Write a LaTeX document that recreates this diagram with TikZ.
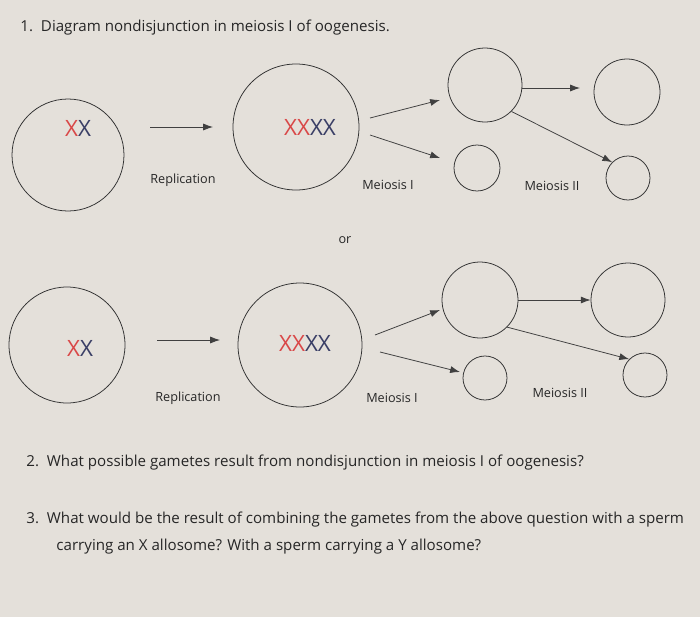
\documentclass[tikz,border=0pt]{standalone}
\usepackage{fontspec}
\setmainfont{Open Sans}
\usetikzlibrary{arrows.meta}
\begin{document}
\begin{tikzpicture}[x=0.05cm,y=-0.05cm,
  cell/.style={draw=black!80,line width=1.1pt,circle,inner sep=0pt},
  arr/.style={draw=black!75,line width=1.1pt,-{Latex[length=14pt,width=10pt]}},
  lbl/.style={font=\fontsize{18}{19}\selectfont,text=black!85},
  chrom/.style={font=\fontsize{32}{34}\selectfont},
  q/.style={font=\fontsize{21.5}{24}\selectfont,anchor=west,text=black!85}]
\definecolor{xr}{HTML}{D94848}\definecolor{xb}{HTML}{3A3F66}\definecolor{paper}{HTML}{E4E0DA}
\fill[paper] (0,0) rectangle (700,617);
\useasboundingbox (0,0) rectangle (700,617);
\node[q,font=\fontsize{21.5}{24}\selectfont] (t) at (18,28) {1.\ \ Diagram nondisjunction in meiosis I of oogenesis.};
% row 1
\node[cell,minimum size=5.6cm] (c1) at (68,155) {};
\node[cell,minimum size=6.3cm] (c2) at (296,127) {};
\node[cell,minimum size=3.7cm] (c3) at (485,85) {};
\node[cell,minimum size=2.3cm] (c4) at (477,168) {};
\node[cell,minimum size=3.3cm] (c5) at (627,92) {};
\node[cell,minimum size=2.2cm] (c6) at (628,178) {};
\node[chrom] (x1) at (78,128) {\color{xr}X\color{xb}X};
\node[chrom] (x2) at (310,127) {\color{xr}XX\color{xb}XX};
\coordinate (p1) at (150,127); \coordinate (p2) at (213,127);
\draw[arr] (p1) -- (p2);
\node[lbl] (r1) at (183,180) {Replication};
\coordinate (p3) at (370,118); \coordinate (p4) at (440,100);
\coordinate (p5) at (370,135); \coordinate (p6) at (440,158);
\draw[arr] (p3) -- (p4); \draw[arr] (p5) -- (p6);
\node[lbl] (m1) at (388,185) {Meiosis I};
\coordinate (e1) at (522,88); \coordinate (e2) at (580,88);
\draw[arr] (e1) -- (e2);
\draw[arr] (c3.south east) -- (c6.north west);
\node[lbl] (m2) at (552,186) {Meiosis II};
\node[lbl] (or) at (345,240) {or};
% row 2
\node[cell,minimum size=5.8cm] (d1) at (67,345) {};
\node[cell,minimum size=6.2cm] (d2) at (300,345) {};
\node[cell,minimum size=3.8cm] (d3) at (480,300) {};
\node[cell,minimum size=2.2cm] (d4) at (485,378) {};
\node[cell,minimum size=3.7cm] (d5) at (628,300) {};
\node[cell,minimum size=2.2cm] (d6) at (645,375) {};
\node[chrom] (y1) at (80,348) {\color{xr}X\color{xb}X};
\node[chrom] (y2) at (305,343) {\color{xr}XX\color{xb}XX};
\coordinate (s1) at (157,340); \coordinate (s2) at (220,340);
\draw[arr] (s1) -- (s2);
\node[lbl] (r2) at (188,398) {Replication};
\coordinate (s3) at (375,335); \coordinate (s4) at (440,310);
\coordinate (s5) at (380,352); \coordinate (s6) at (460,372);
\draw[arr] (s3) -- (s4); \draw[arr] (s5) -- (s6);
\node[lbl] (m3) at (392,398) {Meiosis I};
\draw[arr] (d3.east) -- (d5.west);
\draw[arr] (d3.south east) -- (d6.north west);
\node[lbl] (m4) at (560,393) {Meiosis II};
% questions
\node[q] (q2) at (24,463) {2.\ \ What possible gametes result from nondisjunction in meiosis I of oogenesis?};
\node[q] (q3) at (24,520) {3.\ \ What would be the result of combining the gametes from the above question with a sperm};
\node[q] (q3b) at (54,547) {carrying an X allosome? With a sperm carrying a Y allosome?};
\end{tikzpicture}
\end{document}
